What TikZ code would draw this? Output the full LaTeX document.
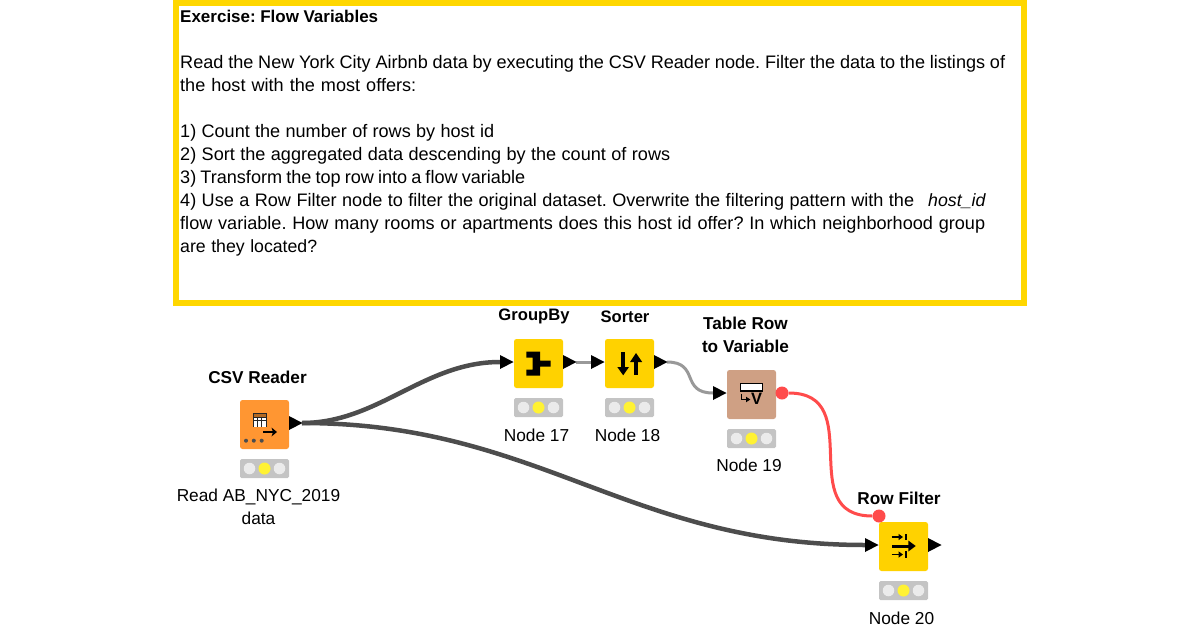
\documentclass[tikz,border=0pt]{standalone}
\usepackage{fontspec}
\setmainfont{Liberation Sans}
\usetikzlibrary{calc}
\definecolor{kframe}{HTML}{FFD700}
\definecolor{kyellow}{HTML}{FFD200}
\definecolor{korange}{HTML}{FF9632}
\definecolor{kbrown}{HTML}{CFA084}
\definecolor{kdark}{HTML}{4D4D4D}
\definecolor{kgrey}{HTML}{999999}
\definecolor{kred}{HTML}{FF4B4B}
\definecolor{ktl}{HTML}{C4C4C4}
\definecolor{klamp}{HTML}{EBEBEB}
\definecolor{klit}{HTML}{FFF233}
\tikzset{
  x=1pt,y=-1pt,
  kbox/.style={draw=none,rounded corners=2.5pt,minimum width=49pt,minimum height=49pt,inner sep=0pt,outer sep=0pt},
  kbar/.style={fill=ktl,rounded corners=1.5pt,minimum width=49pt,minimum height=19pt,inner sep=0pt},
  klamp off/.style={fill=klamp,minimum size=11.5pt,circle,inner sep=0pt},
  klamp on/.style={fill=klit,minimum size=12pt,circle,inner sep=0pt},
  title/.style={font=\fontsize{17.2}{23}\selectfont\bfseries,align=center,inner sep=0pt,text=black},
  sub/.style={font=\fontsize{17.3}{23}\selectfont,align=center,inner sep=0pt,text=black},
  bigwire/.style={draw=kdark,line width=4.5pt},
  thinwire/.style={draw=kgrey,line width=3pt},
  redwire/.style={draw=kred,line width=3pt},
  redport/.style={circle,fill=kred,minimum size=13pt,inner sep=0pt},
  para/.style={font=\fontsize{18.1}{23}\selectfont,anchor=base west,inner sep=0pt,text=black},
}
\frenchspacing
\newcommand{\kbar}[1]{%
  \node[kbar] (#1bar) at ($(#1)+(0,44)$) {};
  \node[klamp off] at ($(#1bar)+(-15,0)$) {};
  \node[klamp on] at (#1bar) {};
  \node[klamp off] at ($(#1bar)+(15,0)$) {};
}
\newcommand{\ktri}[1]{\fill (#1)+(0,-7) -- +(13.5,0) -- +(0,7) -- cycle;}
\newcommand{\fitline}[2]{\makebox[#1pt][s]{#2}}
\begin{document}
\begin{tikzpicture}
\useasboundingbox (0,0) rectangle (1200,630);
\node[draw=kframe,line width=6pt,minimum width=848pt,minimum height=299.6pt,inner sep=0pt,outer sep=0pt] (note) at (600,152.8) {};
\node[para,font=\fontsize{17}{23}\selectfont\bfseries] (l0) at (180,22.7) {\fitline{198}{Exercise: Flow Variables}};
\node[para] (l1) at (180,68.3) {\fitline{825}{Read the New York City Airbnb data by executing the CSV Reader node. Filter the data to the listings of}};
\node[para] (l2) at (180,91.3) {\fitline{236}{the host with the most offers:}};
\node[para] (l3) at (180,137) {\fitline{314}{1) Count the number of rows by host id}};
\node[para] (l4) at (180,160) {\fitline{490}{2) Sort the aggregated data descending by the count of rows}};
\node[para] (l5) at (180,183) {\fitline{345}{3) Transform the top row into a flow variable}};
\node[para] (l6) at (180,206) {\fitline{734}{4) Use a Row Filter node to filter the original dataset. Overwrite the filtering pattern with the}};
\node[para,font=\fontsize{17.75}{23}\selectfont\itshape] (l6b) at (928,206) {host\_id};
\node[para] (l7) at (180,229) {\fitline{805}{flow variable. How many rooms or apartments does this host id offer? In which neighborhood group}};
\node[para,font=\fontsize{17.7}{23}\selectfont] (l8) at (180,252) {\fitline{137}{are they located?}};

\node[kbox,fill=korange] (csv) at (264.5,424.5) {};
\node[kbox,fill=kyellow] (grp) at (538.5,363.5) {};
\node[kbox,fill=kyellow] (srt) at (629.5,363.5) {};
\node[kbox,fill=kbrown] (trv) at (751.5,394.5) {};
\node[kbox,fill=kyellow] (flt) at (903.5,546.5) {};
\kbar{csv}\kbar{grp}\kbar{srt}\kbar{trv}\kbar{flt}

\coordinate (csvO) at (289,423);
\coordinate (csvE) at (302,423);
\coordinate (grpI) at (500,362);
\coordinate (grpO) at (563,362);
\coordinate (grpE) at (576,362);
\coordinate (srtI) at (591,362);
\coordinate (srtO) at (654,362);
\coordinate (srtE) at (667,362);
\coordinate (trvI) at (713,393);
\coordinate (fltI) at (865,545);
\coordinate (fltO) at (928,545);

\draw[bigwire] (csvE) .. controls (378,423) and (424,362) .. (grpI);
\draw[bigwire] (csvE) .. controls (539,423) and (628,545) .. (fltI);
\draw[thinwire] (grpE) -- (srtI);
\draw[thinwire] (srtE) .. controls (700,362) and (680,393) .. (trvI);
\node[redport] (trvR) at (782,393) {};
\node[redport] (fltR) at (879,516) {};
\draw[redwire] (trvR) .. controls (868,393) and (793,516) .. (fltR);

\ktri{csvO}\ktri{grpI}\ktri{grpO}\ktri{srtI}\ktri{srtO}\ktri{trvI}\ktri{fltI}\ktri{fltO}

\node[title] (tcsv) at (257.5,377) {CSV Reader};
\node[title,font=\fontsize{16.6}{21}\selectfont\bfseries] (tgrp) at (534,316.5) {GroupBy};
\node[title,font=\fontsize{16.6}{21}\selectfont\bfseries] (tsrt) at (625,316.5) {Sorter};
\node[title] (ttrv) at (745.5,335) {Table Row\\to Variable};
\node[title] (tflt) at (899,498.5) {Row Filter};
\node[sub] (scsv) at (258.5,507) {Read AB\_NYC\_2019\\data};
\node[sub] (sgrp) at (536.5,435) {Node 17};
\node[sub] (ssrt) at (627.5,435) {Node 18};
\node[sub] (strv) at (749,465) {Node 19};
\node[sub] (sflt) at (901.5,618) {Node 20};

% CSV icon
\begin{scope}[shift={(240,400)}]
  \fill[black!85] (12.7,12.7) rectangle (26.9,27.3);
  \fill[korange!70!black] (13.7,13.7) rectangle (25.9,16.7);
  \foreach \i in {14,18.2,22.4}{\foreach \j in {18,21.2,24.2}{\fill[white] (\i,\j) rectangle +(3.2,2.4);}}
  \fill[black] (23,31) rectangle (33,33);
  \fill[black] (31.5,27.5) -- (37,32) -- (31.5,36.5) -- (33,32) -- cycle;
  \fill[kdark] (6,40.7) circle (2) (13.8,40.7) circle (2) (21.7,40.7) circle (2);
\end{scope}
% GroupBy icon
\begin{scope}[shift={(514,339)}]
  \fill[black] (12.3,12.7) -- (26,12.7) -- (26,21.7) -- (36.7,21.7) -- (36.7,27.7) -- (26,27.7) -- (26,36.7) -- (12.3,36.7) -- (12.3,30.7) -- (18.7,30.7) -- (18.7,18.5) -- (12.3,18.5) -- cycle;
\end{scope}
% Sorter icon
\begin{scope}[shift={(605,339)}]
  \fill[black] (16.2,13) rectangle (20.2,29);
  \fill[black] (12.3,28) -- (24,28) -- (18.2,36.3) -- cycle;
  \fill[black] (29,22) rectangle (33,36);
  \fill[black] (25,23) -- (37.2,23) -- (31,14) -- cycle;
\end{scope}
% Table Row to Variable icon
\begin{scope}[shift={(727,370)}]
  \draw[black,line width=1.5pt,fill=white] (13.4,13.4) rectangle (35.6,21.2);
  \draw[black,line width=1.2pt] (14.8,24) -- (14.8,29.5) -- (20,29.5);
  \fill[black] (19,26.7) -- (23.3,29.5) -- (19,32.3) -- cycle;
  \node[font=\fontsize{16.5}{16.5}\selectfont\bfseries,inner sep=0pt] (vmark) at (29.5,29) {V};
\end{scope}
% Row Filter icon
\begin{scope}[shift={(879,522)}]
  \draw[black,line width=1.1pt] (12.7,15) -- (22,15);
  \fill[black] (19.5,11.8) -- (24,15) -- (19.5,18.2) -- cycle;
  \fill[black] (26,12) rectangle (27.7,18.3);
  \draw[black,line width=1.1pt] (12.7,32.5) -- (22,32.5);
  \fill[black] (19.5,29.3) -- (24,32.5) -- (19.5,35.7) -- cycle;
  \fill[black] (26,29.3) rectangle (27.7,36);
  \fill[black] (12.7,22.5) rectangle (31,25.5);
  \fill[black] (29.3,18.5) -- (36.7,24) -- (29.3,29.5) -- cycle;
\end{scope}
\end{tikzpicture}
\end{document}
